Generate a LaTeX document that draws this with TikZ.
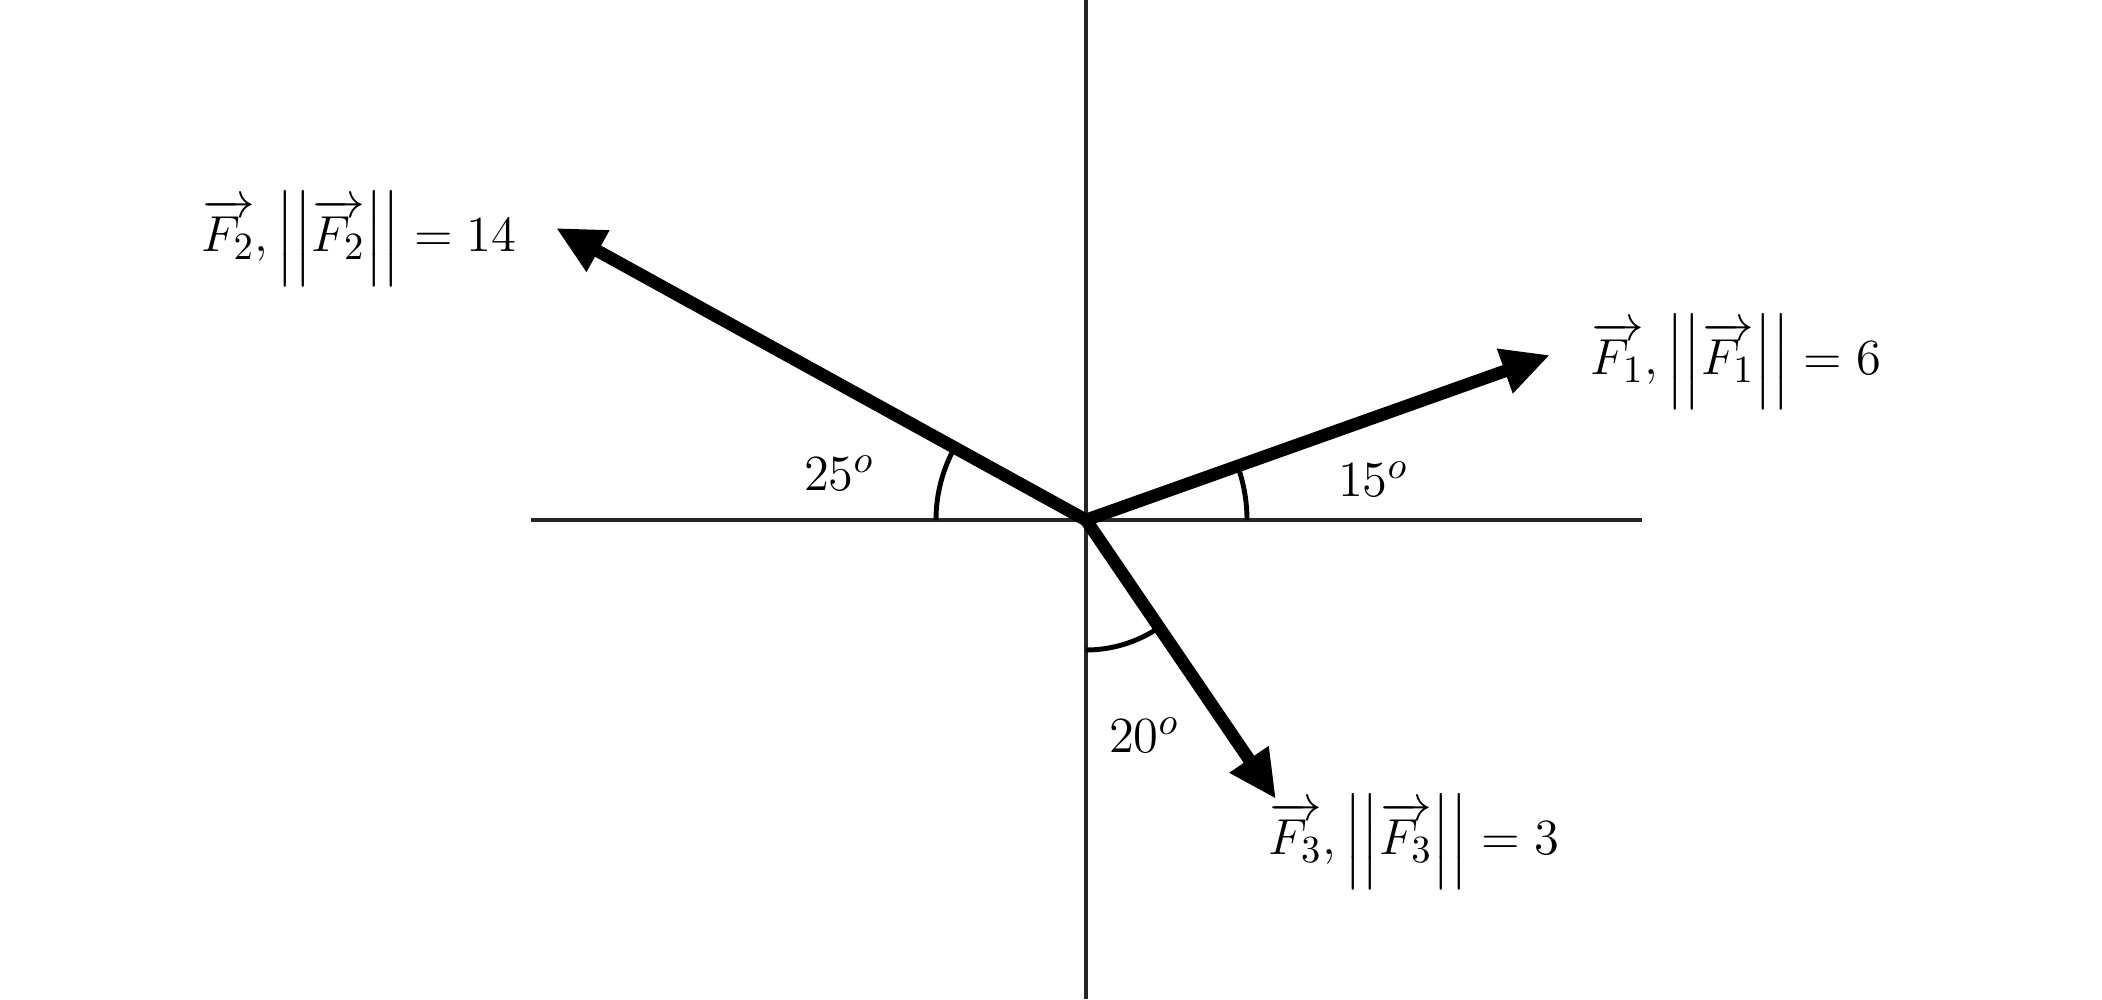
\documentclass[tikz,border=0pt]{standalone}
\usepackage{amsmath}
\usepackage{amssymb}
\usepackage{tikz}
\usetikzlibrary{calc}
\usetikzlibrary{arrows.meta}

\tikzset{
  axisline/.style={black!85, line width=1pt},
  vec/.style={line width=3.6pt, -{Triangle[length=0.48cm,width=0.44cm]}},
  anglearc/.style={line width=1.4pt},
  lbl/.style={font=\fontsize{15}{18}\selectfont, inner sep=0pt}
}

\begin{document}
\begin{tikzpicture}
\useasboundingbox (-10.86,-4.79) rectangle (10.16,5.20);

% axes
\coordinate (O) at (0,0);
\coordinate (top) at (0,5.20);
\coordinate (bottom) at (0,-4.79);
\coordinate (left) at (-5.55,0);
\coordinate (right) at (5.56,0);
\draw[axisline] (bottom) -- (top);
\draw[axisline] (left) -- (right);

% angle marks
\draw[anglearc] (151:1.5) arc (151:180:1.5);
\draw[anglearc] (0:1.61) arc (0:19.6:1.61);
\draw[anglearc] (270:1.3) arc (270:304.3:1.3);

% forces
\coordinate (tipF1) at (4.64,1.65);
\coordinate (tipF2) at (-5.30,2.92);
\coordinate (tipF3) at (1.90,-2.79);
\draw[vec] (O) -- (tipF1);
\draw[vec] (O) -- (tipF2);
\draw[vec] (O) -- (tipF3);

% labels
\node[lbl] (labF1) at (6.50,1.58) {$\overrightarrow{F_1},\Big|\!\left|\overrightarrow{F_1}\right|\!\Big|=6$};
\node[lbl] (labF2) at (-7.27,2.81) {$\overrightarrow{F_2},\Big|\!\left|\overrightarrow{F_2}\right|\!\Big|=14$};
\node[lbl] (labF3) at (3.28,-3.22) {$\overrightarrow{F_3},\Big|\!\left|\overrightarrow{F_3}\right|\!\Big|=3$};
\node[lbl] (ang25) at (-2.47,0.47) {$25^{o}$};
\node[lbl] (ang15) at (2.87,0.41) {$15^{o}$};
\node[lbl] (ang20) at (0.58,-2.15) {$20^{o}$};

\end{tikzpicture}
\end{document}
